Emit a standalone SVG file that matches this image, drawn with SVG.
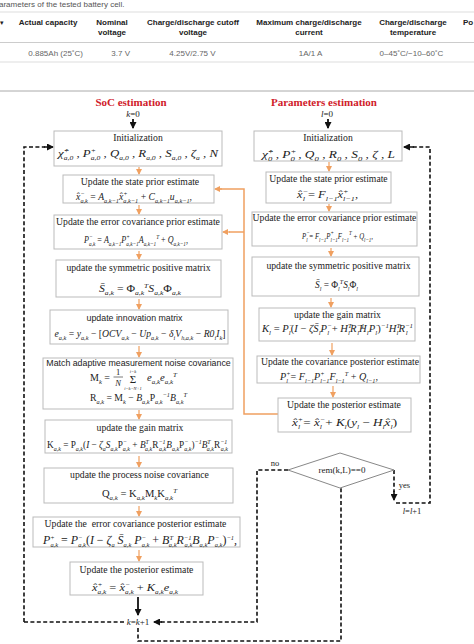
<svg xmlns="http://www.w3.org/2000/svg" width="474" height="644" viewBox="0 0 474 644">
<style>
.cap{font-family:"Liberation Sans",Arial,sans-serif;font-size:8px;fill:#555}
.th{font-family:"Liberation Sans",Arial,sans-serif;font-size:8px;font-weight:bold;fill:#222;text-anchor:middle}
.td{font-family:"Liberation Sans",Arial,sans-serif;font-size:8px;fill:#666;text-anchor:middle}
.hl{stroke:#ddd;stroke-width:1}
.ttl{font-family:"Liberation Serif",serif;font-size:11px;font-weight:bold;fill:#d0202a;text-anchor:middle}
.t{font-family:"Liberation Serif",serif;font-size:9.7px;fill:#222;text-anchor:middle}
.ts{font-family:"Liberation Sans",Arial,sans-serif;font-size:8.8px;fill:#222;text-anchor:middle}
.m{font-family:"Liberation Serif",serif;font-style:italic;font-size:10px;fill:#222;text-anchor:middle}
.s{font-size:6.5px}
.b{baseline-shift:-2.5px}
.p{baseline-shift:4px}
.u{font-style:normal}
.box{fill:#fff;stroke:#bbb;stroke-width:1}
.oa{stroke:#f0a060;stroke-width:1.2;fill:none;marker-end:url(#ao)}
.ol{stroke:#f0a060;stroke-width:1.5;fill:none}
.ba{stroke:#111;stroke-width:1.8;fill:none;marker-end:url(#ab)}
.d{stroke:#111;stroke-width:1.6;stroke-dasharray:4 2.4;fill:none}
.da{stroke:#111;stroke-width:1.6;stroke-dasharray:4 2.4;fill:none;marker-end:url(#ab)}
</style>
<defs>
<marker id="ao" markerWidth="6" markerHeight="6" refX="5" refY="3" orient="auto" markerUnits="userSpaceOnUse"><path d="M0,0 L6,3 L0,6 z" fill="#f0a060"/></marker>
<marker id="ab" markerWidth="7" markerHeight="7" refX="6" refY="3.5" orient="auto" markerUnits="userSpaceOnUse"><path d="M0,0 L7,3.5 L0,7 z" fill="#111"/></marker>
</defs>
<rect width="474" height="644" fill="#fff"/>

<g id="table">
<text class="cap" x="-1" y="6.5">arameters of the tested battery cell.</text>
<line class="hl" x1="0" y1="12" x2="474" y2="12"/>
<line x1="0" y1="42.5" x2="474" y2="42.5" stroke="#ccc" stroke-width="1"/>
<line class="hl" x1="0" y1="62" x2="474" y2="62"/>
<text x="0" y="24.5" style="font-family:'DejaVu Sans',sans-serif;font-size:7px;fill:#222">▾</text>
<text class="th" x="48" y="24.5">Actual capacity</text>
<text class="th" x="112" y="24.5">Nominal</text><text class="th" x="112" y="35">voltage</text>
<text class="th" x="193" y="24.5">Charge/discharge cutoff</text><text class="th" x="193" y="35">voltage</text>
<text class="th" x="309" y="24.5">Maximum charge/discharge</text><text class="th" x="309" y="35">current</text>
<text class="th" x="413" y="24.5">Charge/discharge</text><text class="th" x="413" y="35">temperature</text>
<text class="th" x="463" y="24.5" style="text-anchor:start">Po</text>
<text class="td" x="83" y="55.5" style="text-anchor:end">0.885Ah (25˚C)</text>
<text class="td" x="130" y="55.5" style="text-anchor:end">3.7 V</text>
<text class="td" x="192.5" y="55.5">4.25V/2.75 V</text>
<text class="td" x="310.5" y="55.5">1A/1 A</text>
<text class="td" x="411.5" y="55.5">0–45˚C/−10–60˚C</text>
</g>
<line x1="0" y1="91" x2="474" y2="91" stroke="#aaa" stroke-width="1"/>

<text class="ttl" x="131" y="105.5">SoC estimation</text>
<text class="m" x="133" y="117" style="font-size:9px">k<tspan class="u">=0</tspan></text>
<text class="ttl" x="324" y="105.5">Parameters estimation</text>
<text class="m" x="327" y="117" style="font-size:9px">l<tspan class="u">=0</tspan></text>

<g id="connectors">
<line class="ba" x1="133" y1="119" x2="133" y2="128"/>
<line class="ba" x1="328" y1="119" x2="328" y2="128"/>
<line class="oa" x1="139" y1="167" x2="139" y2="174"/>
<line class="oa" x1="139" y1="205" x2="139" y2="214"/>
<line class="oa" x1="139" y1="251" x2="139" y2="259"/>
<line class="oa" x1="139" y1="299" x2="139" y2="309"/>
<line class="oa" x1="139" y1="346" x2="139" y2="357"/>
<line class="oa" x1="139" y1="410" x2="139" y2="419"/>
<line class="oa" x1="139" y1="456" x2="139" y2="467"/>
<line class="oa" x1="139" y1="506" x2="139" y2="516"/>
<line class="oa" x1="139" y1="550" x2="139" y2="561"/>
<line class="oa" x1="329" y1="162" x2="329" y2="171"/>
<line class="oa" x1="329" y1="204" x2="329" y2="211"/>
<line class="oa" x1="331" y1="248" x2="331" y2="256"/>
<line class="oa" x1="331" y1="298" x2="331" y2="307"/>
<line class="oa" x1="332" y1="343" x2="332" y2="355"/>
<line class="oa" x1="333" y1="386" x2="333" y2="397"/>
<polyline class="ol" points="278,414 244,414 244,189 220,189"/>
<line class="oa" x1="222" y1="189" x2="215" y2="189"/>
<polyline class="ol" points="244,232 229,232"/>
<line class="oa" x1="230" y1="232" x2="223" y2="232"/>
<line class="ba" x1="138" y1="597" x2="138" y2="615"/>
<polyline class="d" points="24,622 24,147 45,147"/>
<line class="da" x1="44" y1="147" x2="53" y2="147"/>
<line class="d" x1="24" y1="622" x2="124" y2="622"/>
<polyline class="d" points="288,470 257,470 257,622 160,622"/>
<line class="da" x1="162" y1="622" x2="154" y2="622"/>
<polyline class="d" points="138,628 138,641 341,641 341,488"/>
<polyline class="d" points="394,470 394,492"/>
<line class="da" x1="394" y1="491" x2="394" y2="500"/>
<polyline class="d" points="396,503 430,503 430,147 412,147"/>
<line class="da" x1="414" y1="147" x2="404" y2="147"/>
</g>

<g id="l-init"><rect class="box" x="54" y="131" width="168" height="35"/>
<text class="t" x="138" y="141">Initialization</text>
<text class="m" x="138" y="157" style="font-size:11px" textLength="160" lengthAdjust="spacingAndGlyphs">χ̂<tspan class="s p">+</tspan><tspan class="s b" dx="-4.3">a,0</tspan> , P<tspan class="s p">+</tspan><tspan class="s b" dx="-4.3">a,0</tspan> , Q<tspan class="s b">a,0</tspan> , R<tspan class="s b">a,0</tspan> , S<tspan class="s b">a,0</tspan> , ζ<tspan class="s b">a</tspan> , N</text></g>

<g id="l-state-prior"><rect class="box" x="63" y="175" width="151" height="28"/>
<text class="t" x="140" y="185">Update the state prior estimate</text>
<text class="m" x="134" y="199.5" textLength="116" lengthAdjust="spacingAndGlyphs">x̂<tspan class="s p">−</tspan><tspan class="s b" dx="-4.3">a,k</tspan><tspan class="u"> = </tspan>A<tspan class="s b">a,k−1</tspan>x̂<tspan class="s p">+</tspan><tspan class="s b" dx="-4.3">a,k−1</tspan><tspan class="u"> + </tspan>C<tspan class="s b">a,k−1</tspan>u<tspan class="s b">a,k−1</tspan>,</text></g>

<g id="l-err-prior"><rect class="box" x="54" y="215" width="168" height="34"/>
<text class="t" x="138" y="225">Update the error covariance prior estimate</text>
<text class="m" x="136" y="242.5" textLength="104" lengthAdjust="spacingAndGlyphs">P<tspan class="s p">−</tspan><tspan class="s b" dx="-4.3">a,k</tspan><tspan class="u"> = </tspan>A<tspan class="s b">a,k−1</tspan>P<tspan class="s p">+</tspan><tspan class="s b" dx="-4.3">a,k−1</tspan>A<tspan class="s b">a,k−1</tspan><tspan class="s p">T</tspan><tspan class="u"> + </tspan>Q<tspan class="s b">a,k−1</tspan>,</text></g>

<g id="l-sym"><rect class="box" x="56" y="260" width="165" height="37"/>
<text class="t" x="138.5" y="271">update the symmetric positive matrix</text>
<text class="m" x="140" y="292" textLength="82" lengthAdjust="spacingAndGlyphs">S̄<tspan class="s b">a,k</tspan><tspan class="u"> = Φ</tspan><tspan class="s b">a,k</tspan><tspan class="s p">T</tspan>S<tspan class="s b">a,k</tspan><tspan class="u">Φ</tspan><tspan class="s b">a,k</tspan></text></g>

<g id="l-innov"><rect class="box" x="50" y="310" width="178" height="34"/>
<text class="ts" x="134.5" y="321">update innovation matrix</text>
<text class="m" x="140" y="337" textLength="171" lengthAdjust="spacingAndGlyphs">e<tspan class="s b">a,k</tspan><tspan class="u"> = </tspan>y<tspan class="s b">a,k</tspan><tspan class="u"> − [</tspan>OCV<tspan class="s b">a,k</tspan><tspan class="u"> − </tspan>Up<tspan class="s b">a,k</tspan><tspan class="u"> − </tspan>δ<tspan class="s b">i</tspan>V<tspan class="s b">h,a,k</tspan><tspan class="u"> − </tspan>R0<tspan class="s b">i</tspan>I<tspan class="s b">k</tspan><tspan class="u">]</tspan></text></g>

<g id="l-match"><rect class="box" x="43" y="358" width="190" height="51"/>
<text class="ts" x="138.5" y="365.5">Match adaptive measurement noise covariance</text>
<text class="m" x="90" y="381" style="text-anchor:start"><tspan class="u">M</tspan><tspan class="s b">k</tspan><tspan class="u"> =</tspan></text>
<text class="m" x="118" y="375" style="font-style:normal;font-size:8.5px">1</text>
<line x1="113.5" y1="377" x2="123" y2="377" stroke="#222" stroke-width="0.6"/>
<text class="m" x="118" y="386" style="font-size:8.5px">N</text>
<text class="m" x="133" y="383" style="font-style:normal;font-size:11px">Σ</text>
<text class="m" x="133" y="373" style="font-size:4.5px">i=k</text>
<text class="m" x="133" y="389.5" style="font-size:4.5px">i=k−N+1</text>
<text class="m" x="147" y="381" style="text-anchor:start" textLength="30" lengthAdjust="spacingAndGlyphs">e<tspan class="s b">a,k</tspan>e<tspan class="s b">a,k</tspan><tspan class="s p">T</tspan></text>
<text class="m" x="138.5" y="401" textLength="97" lengthAdjust="spacingAndGlyphs"><tspan class="u">R</tspan><tspan class="s b">a,k</tspan><tspan class="u"> = M</tspan><tspan class="s b">k</tspan><tspan class="u"> − </tspan>B<tspan class="s b">a,k</tspan><tspan class="u">P</tspan><tspan class="s b">a,k</tspan><tspan class="s p">−1</tspan>B<tspan class="s b">a,k</tspan><tspan class="s p">T</tspan></text></g>

<g id="l-gain"><rect class="box" x="45" y="420" width="187" height="33"/>
<text class="t" x="140" y="431">update the gain matrix</text>
<text class="m" x="137.5" y="448" textLength="181" lengthAdjust="spacingAndGlyphs"><tspan class="u">K</tspan><tspan class="s b">a,k</tspan><tspan class="u"> = P</tspan><tspan class="s b">a,k</tspan><tspan class="u">(</tspan>I<tspan class="u"> − </tspan>ζ<tspan class="s b">a</tspan>S<tspan class="s b">a,k</tspan><tspan class="u">P</tspan><tspan class="s p">−</tspan><tspan class="s b" dx="-4.3">a,k</tspan><tspan class="u"> + </tspan>B<tspan class="s p">T</tspan><tspan class="s b" dx="-3.6">a,k</tspan><tspan class="u">R</tspan><tspan class="s p">−1</tspan><tspan class="s b" dx="-6.9">a,k</tspan>B<tspan class="s b">a,k</tspan><tspan class="u">P</tspan><tspan class="s p">−</tspan><tspan class="s b" dx="-4.3">a,k</tspan><tspan class="u">)</tspan><tspan class="s p">−1</tspan>B<tspan class="s p">T</tspan><tspan class="s b" dx="-3.6">a,k</tspan><tspan class="u">R</tspan><tspan class="s p">−1</tspan><tspan class="s b" dx="-6.9">a,k</tspan></text></g>

<g id="l-process"><rect class="box" x="44" y="468" width="189" height="35"/>
<text class="t" x="139.5" y="478">update the process noise covariance</text>
<text class="m" x="139.5" y="496.5" textLength="75" lengthAdjust="spacingAndGlyphs"><tspan class="u">Q</tspan><tspan class="s b">a,k</tspan><tspan class="u"> = K</tspan><tspan class="s b">a,k</tspan><tspan class="u">M</tspan><tspan class="s b">k</tspan><tspan class="u">K</tspan><tspan class="s b">a,k</tspan><tspan class="s p">T</tspan></text></g>

<g id="l-err-post"><rect class="box" x="33" y="517" width="207" height="30"/>
<text class="t" x="135.5" y="527" xml:space="preserve">Update the  error covariance posterior estimate</text>
<text class="m" x="140" y="544" style="font-size:12px" textLength="194" lengthAdjust="spacingAndGlyphs">P<tspan class="s p">+</tspan><tspan class="s b" dx="-4.3">a,k</tspan><tspan class="u"> = </tspan>P<tspan class="s p">−</tspan><tspan class="s b" dx="-4.3">a,k</tspan><tspan class="u">(</tspan>I<tspan class="u"> − </tspan>ζ<tspan class="s b">a</tspan> S̄<tspan class="s b">a,k</tspan> P<tspan class="s p">−</tspan><tspan class="s b" dx="-4.3">a,k</tspan><tspan class="u"> + </tspan>B<tspan class="s p">T</tspan><tspan class="s b" dx="-3.6">a,k</tspan>R<tspan class="s p">−1</tspan><tspan class="s b" dx="-6.9">a,k</tspan>B<tspan class="s b">a,k</tspan>P<tspan class="s p">−</tspan><tspan class="s b" dx="-4.3">a,k</tspan><tspan class="u">)</tspan><tspan class="s p">−1</tspan>,</text></g>

<g id="l-post"><rect class="box" x="70" y="562" width="133" height="33"/>
<text class="t" x="136.5" y="573">Update the posterior estimate</text>
<text class="m" x="135" y="591" style="font-size:11px" textLength="86" lengthAdjust="spacingAndGlyphs">x̂<tspan class="s p">+</tspan><tspan class="s b" dx="-4.3">a,k</tspan><tspan class="u"> = </tspan>x̂<tspan class="s p">−</tspan><tspan class="s b" dx="-4.3">a,k</tspan><tspan class="u"> + </tspan>K<tspan class="s b">a,k</tspan>e<tspan class="s b">a,k</tspan></text></g>

<g id="k-inc"><text class="m" x="138" y="625" style="font-size:9px">k<tspan class="u">=</tspan>k<tspan class="u">+1</tspan></text></g>

<g id="r-init"><rect class="box" x="254" y="131" width="148" height="30"/>
<text class="t" x="328" y="141">Initialization</text>
<text class="m" x="328.5" y="157.5" textLength="133" lengthAdjust="spacingAndGlyphs">χ̂<tspan class="s p">+</tspan><tspan class="s b" dx="-4.3">0</tspan> , P<tspan class="s p">+</tspan><tspan class="s b" dx="-4.3">0</tspan> , Q<tspan class="s b">0</tspan> , R<tspan class="s b">0</tspan> , S<tspan class="s b">0</tspan> , ζ , L</text></g>

<g id="r-state-prior"><rect class="box" x="266" y="172" width="125" height="31"/>
<text class="t" x="328.5" y="181.5">Update the state prior estimate</text>
<text class="m" x="327.5" y="197.5" textLength="61" lengthAdjust="spacingAndGlyphs">x̂<tspan class="s p">−</tspan><tspan class="s b" dx="-4.3">l</tspan><tspan class="u"> = </tspan>F<tspan class="s b">l−1</tspan>x̂<tspan class="s p">+</tspan><tspan class="s b" dx="-4.3">l−1</tspan>,</text></g>

<g id="r-err-prior"><rect class="box" x="252" y="212" width="165" height="34"/>
<text class="t" x="334.5" y="220.5">Update the error covariance prior estimate</text>
<text class="m" x="337.5" y="238.5" style="font-size:9px" textLength="71" lengthAdjust="spacingAndGlyphs">P<tspan class="s p">−</tspan><tspan class="s b" dx="-4.3">l</tspan><tspan class="u"> = </tspan>F<tspan class="s b">l−1</tspan>P<tspan class="s p">+</tspan><tspan class="s b" dx="-4.3">l−1</tspan>F<tspan class="s b">l−1</tspan><tspan class="s p">T</tspan><tspan class="u"> + </tspan>Q<tspan class="s b">l−1</tspan>,</text></g>

<g id="r-sym"><rect class="box" x="252" y="257" width="167" height="39"/>
<text class="t" x="338.5" y="268.5">update the symmetric positive matrix</text>
<text class="m" x="336.5" y="288" textLength="43" lengthAdjust="spacingAndGlyphs">S̄<tspan class="s b">l</tspan><tspan class="u"> = Φ</tspan><tspan class="s b">l</tspan><tspan class="s p">T</tspan>S<tspan class="s b">l</tspan><tspan class="u">Φ</tspan><tspan class="s b">l</tspan></text></g>

<g id="r-gain"><rect class="box" x="259" y="308" width="156" height="33"/>
<text class="t" x="337.5" y="317.5">update the gain matrix</text>
<text class="m" x="337.5" y="332" textLength="151" lengthAdjust="spacingAndGlyphs">K<tspan class="s b">l</tspan><tspan class="u"> = </tspan>P<tspan class="s p">−</tspan><tspan class="s b" dx="-4.3">l</tspan><tspan class="u">(</tspan>I<tspan class="u"> − </tspan>ζS̄<tspan class="s b">l</tspan>P<tspan class="s p">−</tspan><tspan class="s b" dx="-4.3">l</tspan><tspan class="u"> + </tspan>H<tspan class="s p">T</tspan><tspan class="s b" dx="-3.6">l</tspan>R<tspan class="s p">−1</tspan><tspan class="s b" dx="-6.9">l</tspan>H<tspan class="s b">l</tspan>P<tspan class="s p">−</tspan><tspan class="s b" dx="-4.3">l</tspan><tspan class="u">)</tspan><tspan class="s p">−1</tspan>H<tspan class="s p">T</tspan><tspan class="s b" dx="-3.6">l</tspan>R<tspan class="s p">−1</tspan><tspan class="s b" dx="-6.9">l</tspan></text></g>

<g id="r-cov-post"><rect class="box" x="257" y="356" width="163" height="27"/>
<text class="t" x="340" y="364.5">Update the covariance posterior estimate</text>
<text class="m" x="329" y="380" style="font-size:10.5px" textLength="98" lengthAdjust="spacingAndGlyphs">P<tspan class="s p">+</tspan><tspan class="s b" dx="-4.3">l</tspan><tspan class="u"> = </tspan>F<tspan class="s b">l−1</tspan>P<tspan class="s p">+</tspan><tspan class="s b" dx="-4.3">l−1</tspan>F<tspan class="s b">l−1</tspan><tspan class="s p">T</tspan><tspan class="u"> + </tspan>Q<tspan class="s b">l−1</tspan>,</text></g>

<g id="r-post"><rect class="box" x="278" y="398" width="133" height="34"/>
<text class="t" x="344" y="408">Update the posterior estimate</text>
<text class="m" x="344.5" y="426" style="font-size:11px" textLength="105" lengthAdjust="spacingAndGlyphs">x̂<tspan class="s p">+</tspan><tspan class="s b" dx="-4.3">l</tspan><tspan class="u"> = </tspan>x̂<tspan class="s p">−</tspan><tspan class="s b" dx="-4.3">l</tspan><tspan class="u"> + </tspan>K<tspan class="s b">l</tspan><tspan class="u">(</tspan>y<tspan class="s b">l</tspan><tspan class="u"> − </tspan>H<tspan class="s b">l</tspan>x̂<tspan class="s p">−</tspan><tspan class="s b" dx="-4.3">l</tspan><tspan class="u">)</tspan></text></g>

<g id="decision"><polygon points="340,453 394,470 340,488 288,470" fill="#fff" stroke="#888" stroke-width="1"/>
<text class="t" x="342" y="473" style="font-size:9px">rem(k,L)==0</text></g>
<text class="t" x="275" y="466" style="font-size:8.5px">no</text>
<text class="t" x="404.5" y="488" style="font-size:8.5px">yes</text>
<g id="l-inc"><text class="m" x="412" y="514" style="font-size:8.5px">l<tspan class="u">=</tspan>l<tspan class="u">+1</tspan></text></g>
</svg>
